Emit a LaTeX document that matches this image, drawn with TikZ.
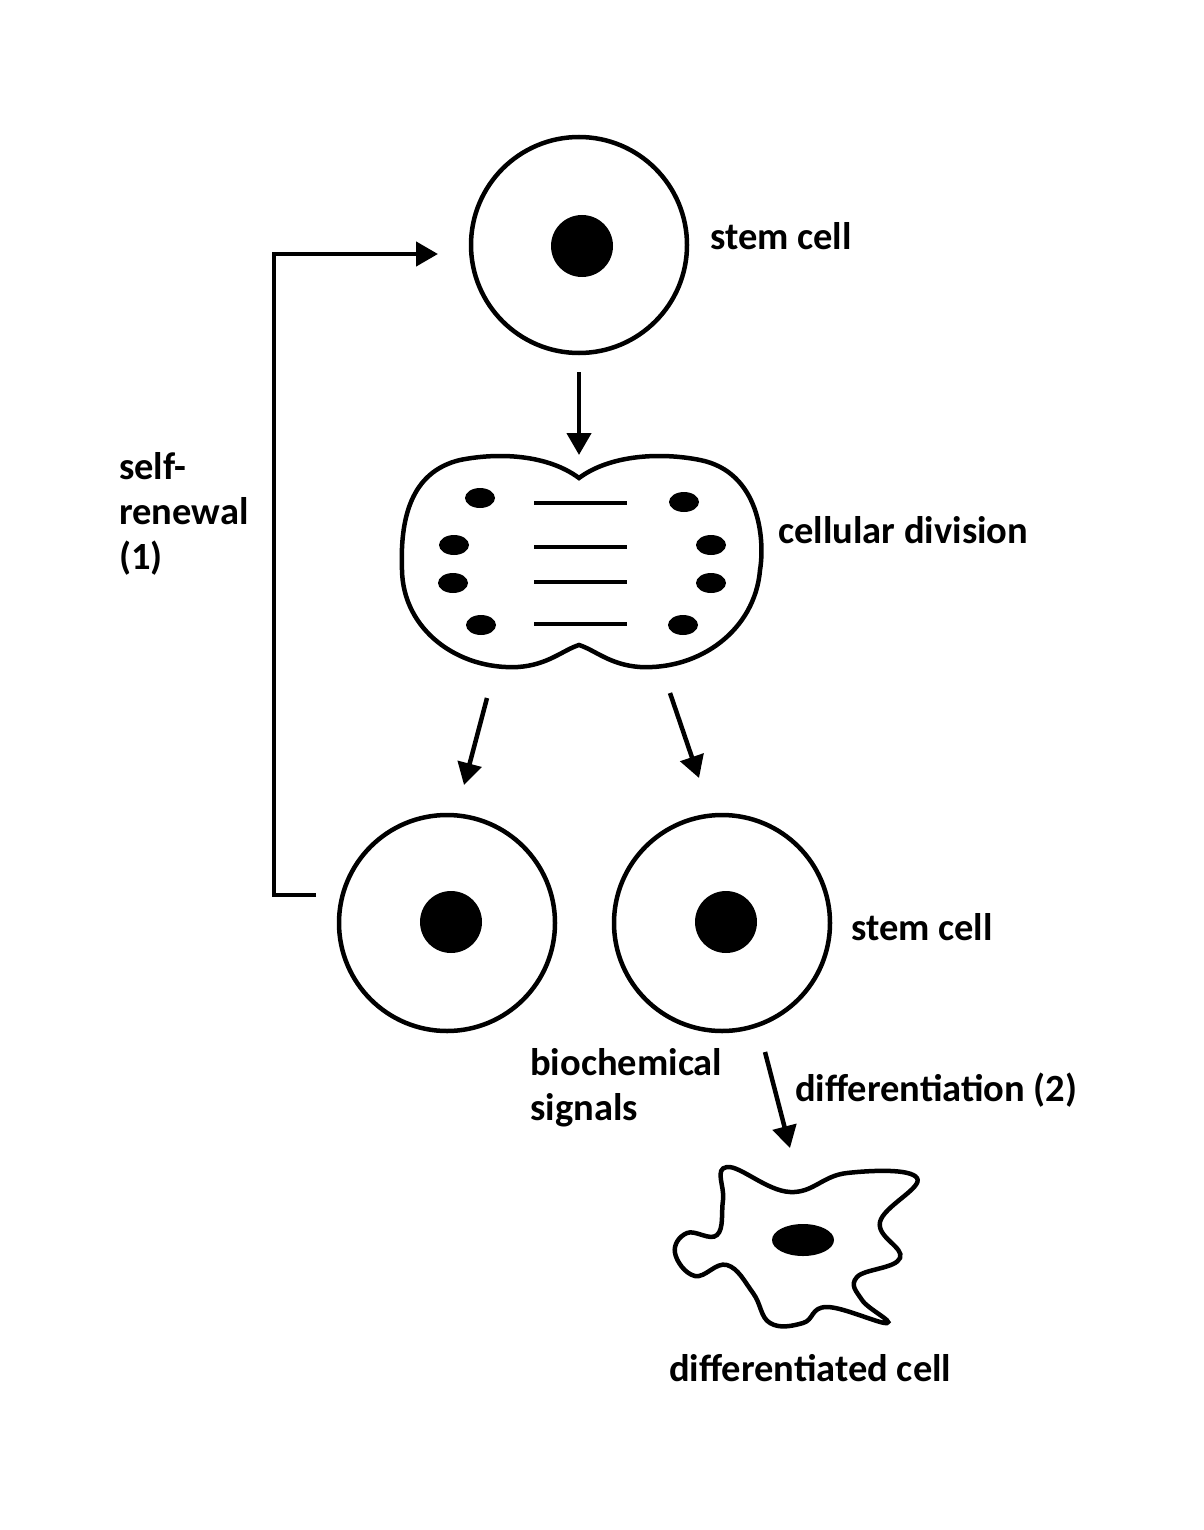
\documentclass[tikz,border=0pt]{standalone}
\usepackage{fontspec}
\setmainfont{Carlito}
\usetikzlibrary{arrows.meta}
\begin{document}
\begin{tikzpicture}[x=1pt,y=-1pt,line width=4.5pt,
  lbl/.style={font=\fontsize{38.5}{45}\selectfont\bfseries,anchor=west,align=left,inner sep=0},
  arr/.style={-{Triangle[length=22pt,width=24pt]},line width=4.5pt},
  cell/.style={circle,draw,line width=4.5pt,minimum size=216pt,inner sep=0},
  nuc/.style={circle,fill,minimum size=62pt,inner sep=0}]
\useasboundingbox (0,0) rectangle (1203,1530);
\node[cell] (top) at (579,245) {};
\node[nuc] (topn) at (582,246) {};
\node[lbl] (l1) at (708,236) {stem cell};
\coordinate (a1s) at (579,372); \coordinate (a1e) at (579,455);
\draw[arr] (a1s) -- (a1e);
% dividing cell
\draw (579,478) .. controls (610,455) and (660,452) .. (700,460)
  .. controls (760,472) and (765,540) .. (760,570)
  .. controls (755,630) and (700,670) .. (640,667)
  .. controls (610,665) and (595,650) .. (579,645)
  .. controls (563,650) and (548,665) .. (518,667)
  .. controls (458,670) and (403,630) .. (402,570)
  .. controls (400,520) and (410,472) .. (460,460)
  .. controls (500,452) and (548,455) .. (579,478) -- cycle;
\foreach \p in {(480,498),(454,545),(453,583),(481,625),(684,502),(711,545),(711,583),(683,625)}
  \fill \p ellipse (15 and 10);
\foreach \y in {503,547,582,624} \draw (534,\y) -- (627,\y);
\node[lbl] (l2) at (776,530) {cellular division};
\coordinate (b1s) at (487,698); \coordinate (b1e) at (464,785);
\coordinate (b2s) at (670,693); \coordinate (b2e) at (699,778);
\draw[arr] (b1s) -- (b1e);
\draw[arr] (b2s) -- (b2e);
\node[cell] (bl) at (447,923) {};
\node[cell] (br) at (722,923) {};
\node[nuc] at (451,922) {};
\node[nuc] at (726,922) {};
\node[lbl] (l3) at (849,927) {stem cell};
\coordinate (f1) at (316,895); \coordinate (f2) at (274,895); \coordinate (f3) at (274,254); \coordinate (f4) at (438,254);
\draw[arr,line join=miter] (f1) -- (f2) -- (f3) -- (f4);
\node[lbl,anchor=north west] (l4) at (117,450) {self-\\renewal\\(1)};
\node[lbl,anchor=north west] (l5) at (528,1046) {biochemical\\signals};
\coordinate (c1s) at (765,1052); \coordinate (c1e) at (790,1148);
\draw[arr] (c1s) -- (c1e);
\node[lbl] (l6) at (793,1090) {differentiation (2)};
\draw plot[smooth cycle,tension=0.7] coordinates {(727,1167) (790,1192) (847,1173) (917,1178) (880,1222) (900,1258) (857,1277) (862,1300) (887,1323) (827,1307) (803,1323) (770,1323) (753,1293) (727,1265) (695,1276) (675,1253) (687,1233) (717,1235) (723,1200)};
\fill (803,1240) ellipse (31 and 16);
\node[lbl] (l7) at (667,1368) {differentiated cell};
\end{tikzpicture}
\end{document}
